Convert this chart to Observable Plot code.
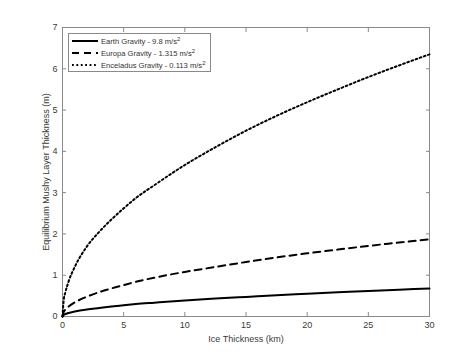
<!DOCTYPE html>
<html>
<head>
<meta charset="utf-8">
<script src="https://cdn.jsdelivr.net/npm/d3@7"></script>
<script src="https://cdn.jsdelivr.net/npm/@observablehq/plot@0.6"></script>
<style>
  html, body { margin: 0; padding: 0; background: #fff; }
  #chart { position: relative; width: 474px; height: 355px; font-family: "Liberation Sans", Arial, sans-serif; }
  #legend { position: absolute; left: 68px; top: 33px; width: 143px; height: 39px; border: 1px solid #8a8a8a; background: #fff; font-size: 7.6px; color: #333; box-sizing: border-box; }
  .row { position: absolute; left: 3px; height: 10px; display: flex; align-items: center; white-space: nowrap; }
  .row svg { margin-right: 3px; }
  sup { font-size: 6px; vertical-align: 3px; line-height: 0; }
</style>
</head>
<body>
<div id="chart"></div>
<script>
// Ice thickness (km)
const iceKm = [0, 0.1, 0.25, 0.5, 1, 2, 3, 4, 5, 6, 7.5, 10, 12.5, 15, 17.5, 20, 22.5, 25, 27.5, 30];
// Equilibrium mushy layer thickness (m)
const earth     = [0, 0.04, 0.06, 0.085, 0.12, 0.17, 0.205, 0.24, 0.27, 0.3, 0.335, 0.39, 0.435, 0.475, 0.515, 0.55, 0.585, 0.62, 0.65, 0.68];
const europa    = [0, 0.11, 0.17, 0.24, 0.34, 0.48, 0.59, 0.68, 0.76, 0.84, 0.94, 1.08, 1.2, 1.32, 1.43, 1.53, 1.62, 1.71, 1.79, 1.87];
const enceladus = [0, 0.4, 0.6, 0.85, 1.2, 1.7, 2.05, 2.35, 2.62, 2.87, 3.18, 3.67, 4.1, 4.5, 4.86, 5.19, 5.5, 5.8, 6.08, 6.35];
const seriesNames = ["Earth Gravity - 9.8 m/s", "Europa Gravity - 1.315 m/s", "Enceladus Gravity - 0.113 m/s"];
const xTicks = [0, 5, 10, 15, 20, 25, 30];
const yTicks = [0, 1, 2, 3, 4, 5, 6, 7];

const toRows = (vals) => iceKm.map((x, i) => ({x, y: vals[i]}));
const axisColor = "#8a8a8a";
const textColor = "#3a3a3a";
const dashes = ["none", "7,5", "1.8,2.6"];

const plot = Plot.plot({
  width: 474,
  height: 355,
  marginLeft: 62,
  marginRight: 45,
  marginTop: 27,
  marginBottom: 39,
  style: {fontFamily: "Liberation Sans, Arial, sans-serif", fontSize: "9px", color: textColor, background: "#fff"},
  x: {domain: [0, 30]},
  y: {domain: [0, 7]},
  marks: [
    Plot.frame({stroke: axisColor, strokeWidth: 1}),
    Plot.axisX(xTicks, {anchor: "bottom", tickSize: 0, tickPadding: 5, fontSize: 9, fill: textColor, label: "Ice Thickness (km)", labelAnchor: "center", labelOffset: 25, labelArrow: "none"}),
    Plot.axisX(xTicks, {anchor: "bottom", tickSize: -4, tickFormat: () => "", stroke: axisColor, label: null}),
    Plot.axisX(xTicks, {anchor: "top", tickSize: -4, tickFormat: () => "", stroke: axisColor, label: null}),
    Plot.axisY(yTicks, {anchor: "left", tickSize: 0, tickPadding: 5, fontSize: 9, fill: textColor, label: "Equilibrium Mushy Layer Thickness (m)", labelAnchor: "center", labelOffset: 20, labelArrow: "none"}),
    Plot.axisY(yTicks, {anchor: "left", tickSize: -4, tickFormat: () => "", stroke: axisColor, label: null}),
    Plot.axisY(yTicks, {anchor: "right", tickSize: -4, tickFormat: () => "", stroke: axisColor, label: null}),
    Plot.line(toRows(earth), {x: "x", y: "y", stroke: "#000", strokeWidth: 2, curve: "monotone-x"}),
    Plot.line(toRows(europa), {x: "x", y: "y", stroke: "#000", strokeWidth: 2, strokeDasharray: dashes[1], curve: "monotone-x"}),
    Plot.line(toRows(enceladus), {x: "x", y: "y", stroke: "#000", strokeWidth: 2, strokeDasharray: dashes[2], curve: "monotone-x"})
  ]
});

const chart = document.getElementById("chart");
chart.appendChild(plot);

const legend = document.createElement("div");
legend.id = "legend";
const rowTops = [2, 14, 26];
seriesNames.forEach((name, i) => {
  const row = document.createElement("div");
  row.className = "row";
  row.style.top = rowTops[i] + "px";
  row.innerHTML = `<svg width="26" height="6"><line x1="0" y1="3" x2="26" y2="3" stroke="#000" stroke-width="2" ${dashes[i] === "none" ? "" : `stroke-dasharray="${dashes[i]}"`}/></svg><span>${name}<sup>2</sup></span>`;
  legend.appendChild(row);
});
chart.appendChild(legend);
</script>
</body>
</html>
